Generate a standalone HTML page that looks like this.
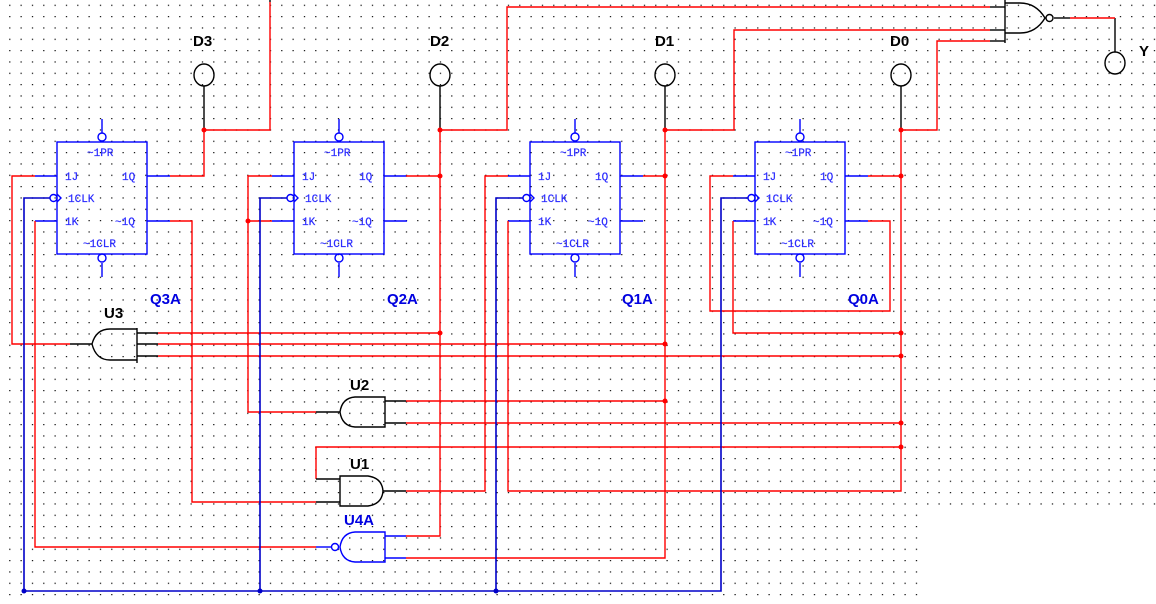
<!DOCTYPE html>
<html><head><meta charset="utf-8"><style>
html,body{margin:0;padding:0;background:#fff;}
svg{display:block;}
.r{stroke:#ff0000;fill:none;stroke-width:1.4}
.b{stroke:#0000ff;fill:none;stroke-width:1.4}
.bb{stroke:#0000c8;fill:none;stroke-width:1.6}
.k{stroke:#000;fill:none;stroke-width:1.4}
.pt{font-family:"Liberation Mono",monospace;font-size:11px;fill:#2a2aff;stroke:#2a2aff;stroke-width:0.2}
.lb{font-family:"Liberation Sans",sans-serif;font-size:15px;font-weight:bold;fill:#0000e0}
.lk{font-family:"Liberation Sans",sans-serif;font-size:15px;font-weight:bold;fill:#000}
</style></head><body>
<svg width="1156" height="604" viewBox="0 0 1156 604" xmlns="http://www.w3.org/2000/svg">
<defs>
<pattern id="g" x="9.2" y="4.7" width="11.333" height="11.333" patternUnits="userSpaceOnUse">
<rect x="0" y="0" width="1.2" height="1.2" fill="#000"/>
</pattern>
<g id="ff">
<rect x="0" y="0" width="90" height="112" class="b"/>
<line x1="45" y1="-23" x2="45" y2="-9" class="b"/>
<circle cx="45" cy="-5" r="4" fill="#fff" class="b"/>
<line x1="45" y1="135" x2="45" y2="121" class="b"/>
<circle cx="45" cy="116" r="4" fill="#fff" class="b"/>
<line x1="-22" y1="34" x2="0" y2="34" class="b"/>
<line x1="-22" y1="79" x2="0" y2="79" class="b"/>
<line x1="90" y1="34" x2="113" y2="34" class="b"/>
<line x1="90" y1="79" x2="113" y2="79" class="b"/>
<circle cx="-3.5" cy="56" r="3.5" fill="#fff" class="b"/>
<polyline points="0,52 4,56 0,60" class="b"/>
<text x="30" y="14" class="pt">~1PR</text>
<text x="8" y="38" class="pt">1J</text>
<text x="65" y="38" class="pt">1Q</text>
<text x="11" y="60" class="pt">1CLK</text>
<text x="8" y="83" class="pt">1K</text>
<text x="58" y="83" class="pt">~1Q</text>
<text x="26" y="105" class="pt">~1CLR</text>
</g>
</defs>
<rect width="1156" height="604" fill="url(#g)"/>
<rect x="927" y="506" width="229" height="98" fill="#fff"/>

<use href="#ff" x="57" y="142"/>
<use href="#ff" x="294" y="142"/>
<use href="#ff" x="530" y="142"/>
<use href="#ff" x="755" y="142"/>
<text x="150" y="304" class="lb">Q3A</text>
<text x="387" y="304" class="lb">Q2A</text>
<text x="622" y="304" class="lb">Q1A</text>
<text x="848" y="304" class="lb">Q0A</text>

<text x="193" y="46" class="lk">D3</text>
<text x="430" y="46" class="lk">D2</text>
<text x="655" y="46" class="lk">D1</text>
<text x="890" y="46" class="lk">D0</text>
<text x="1139" y="56" class="lk">Y</text>
<g class="k">
<ellipse cx="204" cy="75" rx="10" ry="11"/><line x1="204" y1="86" x2="204" y2="130"/>
<ellipse cx="440" cy="75" rx="10" ry="11"/><line x1="440" y1="86" x2="440" y2="130"/>
<ellipse cx="665" cy="75" rx="10" ry="11"/><line x1="665" y1="86" x2="665" y2="130"/>
<ellipse cx="901" cy="75" rx="10" ry="11"/><line x1="901" y1="86" x2="901" y2="130"/>
<ellipse cx="1115" cy="63" rx="10" ry="11"/><line x1="1115" y1="52" x2="1115" y2="18"/>
<line x1="1054" y1="18" x2="1070" y2="18"/>
<line x1="270" y1="0" x2="270" y2="2"/>
</g>
<g class="k">
<line x1="1005" y1="0" x2="1005" y2="43"/>
<path d="M1005,3 L1020,3 Q1036,3 1045,18 Q1036,33 1020,33 L1005,33"/>
<circle cx="1049.5" cy="18" r="3.5" fill="#fff"/>
<line x1="990" y1="7" x2="1005" y2="7"/>
<line x1="990" y1="30" x2="1005" y2="30"/>
<line x1="990" y1="41" x2="1005" y2="41"/>
</g>
<g class="r">
<polyline points="1070,18 1115,18"/>
<polyline points="204,130 270,130 270,2"/>
<polyline points="440,130 507,130 507,7 990,7"/>
<polyline points="665,130 734,130 734,30 990,30"/>
<polyline points="901,130 937,130 937,41 990,41"/>
<polyline points="204,130 204,176 170,176"/>
<polyline points="440,130 440,536 406,536"/>
<polyline points="665,130 665,558 406,558"/>
<polyline points="901,130 901,491 508,491 508,221"/>
<line x1="440" y1="176" x2="406" y2="176"/>
<line x1="665" y1="176" x2="643" y2="176"/>
<line x1="901" y1="176" x2="868" y2="176"/>
<polyline points="35,176 12,176 12,344 70,344"/>
<polyline points="35,221 35,547 316,547"/>
<polyline points="170,221 192,221 192,502 316,502"/>
<polyline points="272,176 248,176 248,412 316,412"/>
<line x1="248" y1="221" x2="272" y2="221"/>
<line x1="158" y1="333" x2="440" y2="333"/>
<line x1="158" y1="344" x2="665" y2="344"/>
<line x1="158" y1="356" x2="901" y2="356"/>
<line x1="406" y1="401" x2="665" y2="401"/>
<line x1="406" y1="423" x2="901" y2="423"/>
<polyline points="316,479 316,447 901,447"/>
<polyline points="406,491 485,491 485,176 508,176"/>
<polyline points="733,176 710,176 710,311 890,311 890,221 868,221"/>
<polyline points="733,221 733,333 901,333"/>
</g>
<g class="bb">
<polyline points="50,198 24,198 24,591 721,591 721,198 748,198"/>
<polyline points="287,198 260,198 260,591"/>
<polyline points="523,198 496,198 496,591"/>
</g>
<g fill="#0000c8">
<circle cx="24" cy="591" r="2.5"/><circle cx="260" cy="591" r="2.5"/><circle cx="496" cy="591" r="2.5"/>
</g>
<g class="k">
<line x1="137" y1="328" x2="137" y2="363"/>
<path d="M137,329 L110,329 Q96,329 92,344 Q96,360 110,360 L137,360"/>
<line x1="70" y1="344" x2="92" y2="344"/>
<line x1="137" y1="333" x2="158" y2="333"/>
<line x1="137" y1="344" x2="158" y2="344"/>
<line x1="137" y1="356" x2="158" y2="356"/>
<path d="M385,397 L355,397 Q342,398 340,412 Q342,426 355,427 L385,427 Z"/>
<line x1="316" y1="412" x2="340" y2="412"/>
<line x1="385" y1="401" x2="406" y2="401"/>
<line x1="385" y1="423" x2="406" y2="423"/>
<path d="M340,476 L368,476 Q382,478 383,491 Q382,504 368,506 L340,506 Z"/>
<line x1="316" y1="479" x2="340" y2="479"/>
<line x1="316" y1="502" x2="340" y2="502"/>
<line x1="383" y1="491" x2="406" y2="491"/>
</g>
<g class="b">
<path d="M385,532 L355,532 Q342,533 340,547 Q342,561 355,562 L385,562 Z"/>
<circle cx="335" cy="547" r="3.5" fill="#fff"/>
<line x1="316" y1="547" x2="331" y2="547"/>
<line x1="385" y1="536" x2="406" y2="536"/>
<line x1="385" y1="558" x2="406" y2="558"/>
</g>
<text x="104" y="318" class="lk">U3</text>
<text x="350" y="390" class="lk">U2</text>
<text x="350" y="469" class="lk">U1</text>
<text x="344" y="525" class="lb">U4A</text>
<g fill="#ff0000">
<circle cx="204" cy="130" r="2.5"/><circle cx="440" cy="130" r="2.5"/><circle cx="665" cy="130" r="2.5"/><circle cx="901" cy="130" r="2.5"/>
<circle cx="440" cy="176" r="2.5"/><circle cx="665" cy="176" r="2.5"/><circle cx="901" cy="176" r="2.5"/>
<circle cx="248" cy="221" r="2.5"/>
<circle cx="440" cy="333" r="2.5"/><circle cx="665" cy="344" r="2.5"/><circle cx="901" cy="356" r="2.5"/><circle cx="901" cy="333" r="2.5"/>
<circle cx="665" cy="401" r="2.5"/><circle cx="901" cy="423" r="2.5"/><circle cx="901" cy="447" r="2.5"/>
</g>
</svg>
</body></html>
